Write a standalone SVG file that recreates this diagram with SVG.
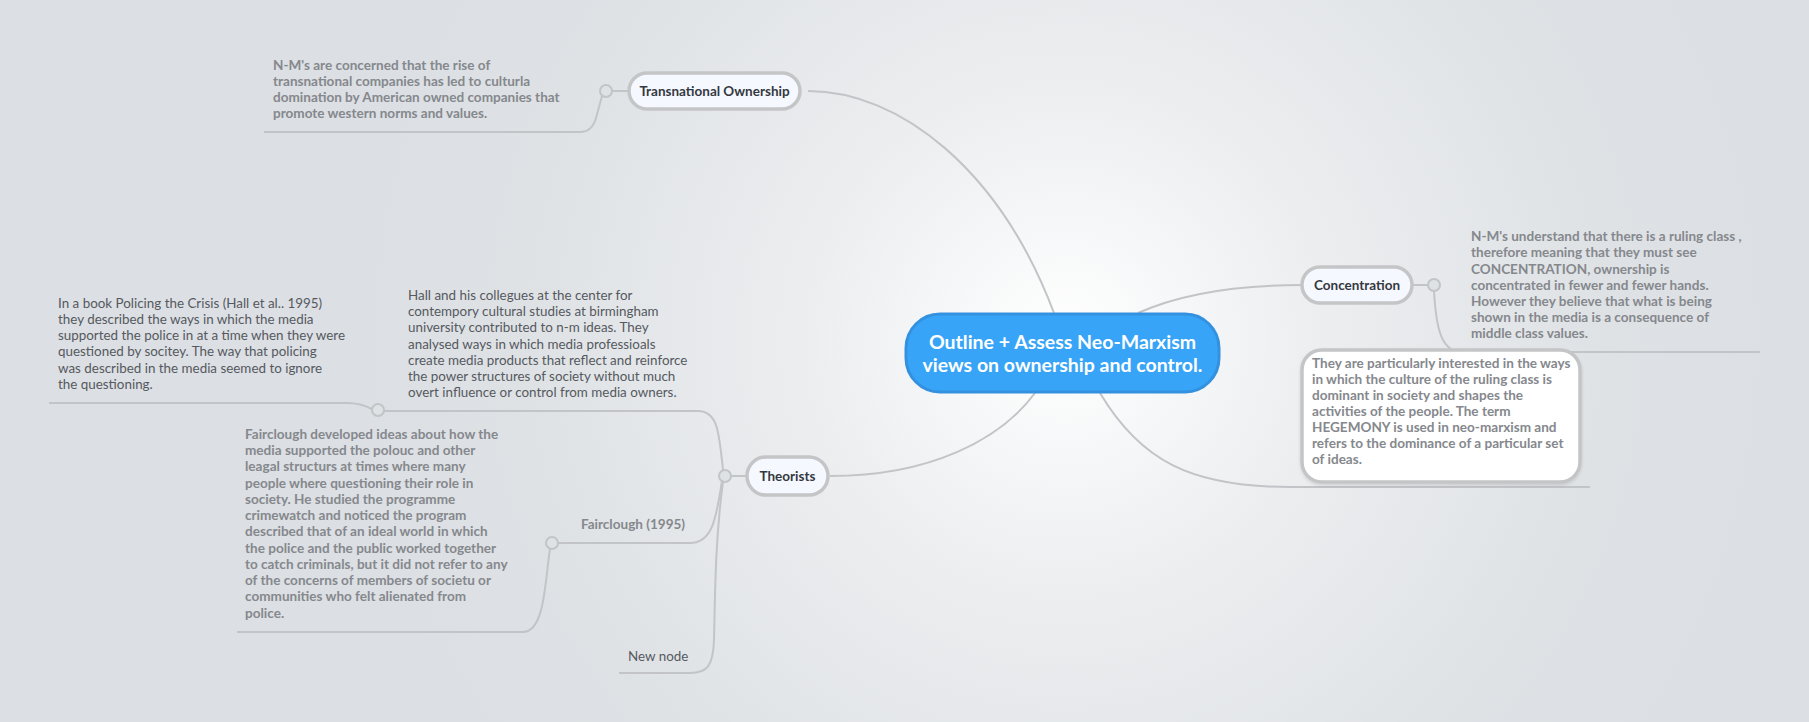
<svg xmlns="http://www.w3.org/2000/svg" width="1809" height="722" viewBox="0 0 1809 722">
<defs>
<radialGradient id="bg" cx="1065" cy="340" r="720" gradientUnits="userSpaceOnUse">
<stop offset="0" stop-color="#ffffff"/>
<stop offset="0.35" stop-color="#eceef0"/>
<stop offset="0.75" stop-color="#dfe2e5"/>
<stop offset="1" stop-color="#dcdfe3"/>
</radialGradient>
<filter id="sh" x="-10%" y="-10%" width="120%" height="130%">
<feDropShadow dx="0" dy="1.5" stdDeviation="1.5" flood-color="#000" flood-opacity="0.12"/>
</filter>
</defs>
<style>
.c{fill:none;stroke:#c2c4c7;stroke-width:2}
.j{fill:#dfe2e5;stroke:#c2c4c7;stroke-width:2}
.n{fill:#f5f8ff;stroke:#c4c5c7;stroke-width:3.5}
.lab{font-family:Lato,"Open Sans",sans-serif;font-size:13.5px;font-weight:700;fill:#34383e}
.bd{font-family:Lato,"Open Sans",sans-serif;font-size:13.55px;font-weight:700;fill:#85888d}
.rg{font-family:Lato,"Open Sans",sans-serif;font-size:13.4px;font-weight:400;fill:#55595f}
.ct{font-family:Lato,"Open Sans",sans-serif;font-size:19.5px;font-weight:700;fill:#ffffff}
</style>
<rect width="1809" height="722" fill="url(#bg)"/>

<g id="connectors">
<path class="c" d="M808 91 C900 91 1000 170 1054 313"/>
<path class="c" d="M1138 313 Q1200 285 1302 285"/>
<path class="c" d="M1100 393 C1140 460 1190 487 1290 487 H1590"/>
<path class="c" d="M1035 393 C1000 440 930 476 830 476"/>
<path class="c" d="M612 91 H629"/>
<path class="c" d="M264 132 H580 Q592 132 596 118 L602 96"/>
<path class="c" d="M1412 285 H1428"/>
<path class="c" d="M1434 291 C1436 325 1440 352 1462 352 H1760"/>
<path class="c" d="M731 476 H747"/>
<path class="c" d="M723 470 C719 430 717 411 698 411 H384"/>
<path class="c" d="M49 403 H348 Q360 403 372 409"/>
<path class="c" d="M722 481 C716 520 712 543 690 543 H558"/>
<path class="c" d="M550 549 C545 580 545 632 523 632 H237"/>
<path class="c" d="M723 482 C715 540 715 600 714 640 C713 665 708 673 690 673 H619"/>
</g>

<g id="center">
<rect x="906" y="314" width="313" height="78" rx="34" fill="#37a4f7" stroke="#3491e0" stroke-width="3"/>
<text class="ct" x="1062.5" y="348.5" text-anchor="middle">Outline + Assess Neo-Marxism</text>
<text class="ct" x="1062.5" y="371.5" text-anchor="middle">views on ownership and control.</text>
</g>

<g id="transnational">
<rect class="n" x="629" y="73" width="171" height="36" rx="18"/>
<text class="lab" x="714.5" y="96" text-anchor="middle">Transnational Ownership</text>
<circle class="j" cx="606" cy="91" r="6"/>
</g>

<g id="transnational-text">
<text class="bd"><tspan x="273" y="70">N-M's are concerned that the rise of</tspan><tspan x="273" y="86">transnational companies has led to culturla</tspan><tspan x="273" y="102">domination by American owned companies that</tspan><tspan x="273" y="118">promote western norms and values.</tspan></text>
</g>

<g id="concentration">
<rect class="n" x="1302" y="267" width="110" height="36" rx="18"/>
<text class="lab" x="1357" y="290" text-anchor="middle">Concentration</text>
<circle class="j" cx="1434" cy="285" r="6"/>
</g>

<g id="concentration-text">
<text class="bd"><tspan x="1471" y="241">N-M's understand that there is a ruling class ,</tspan><tspan x="1471" y="257">therefore meaning that they must see</tspan><tspan x="1471" y="273.5">CONCENTRATION, ownership is</tspan><tspan x="1471" y="290">concentrated in fewer and fewer hands.</tspan><tspan x="1471" y="306">However they believe that what is being</tspan><tspan x="1471" y="322">shown in the media is a consequence of</tspan><tspan x="1471" y="338">middle class values.</tspan></text>
</g>

<g id="hegemony">
<rect x="1302" y="350" width="278" height="132" rx="20" fill="#ffffff" stroke="#c4c5c7" stroke-width="3.5" filter="url(#sh)"/>
<text class="bd"><tspan x="1312" y="368">They are particularly interested in the ways</tspan><tspan x="1312" y="384">in which the culture of the ruling class is</tspan><tspan x="1312" y="400">dominant in society and shapes the</tspan><tspan x="1312" y="416">activities of the people. The term</tspan><tspan x="1312" y="432">HEGEMONY is used in neo-marxism and</tspan><tspan x="1312" y="448">refers to the dominance of a particular set</tspan><tspan x="1312" y="464">of ideas.</tspan></text>
</g>

<g id="theorists">
<rect class="n" x="747" y="457" width="81" height="38" rx="19"/>
<text class="lab" x="787.5" y="481" text-anchor="middle">Theorists</text>
<circle class="j" cx="725" cy="476" r="6"/>
</g>

<g id="hall">
<text class="rg"><tspan x="408" y="299.5">Hall and his collegues at the center for</tspan><tspan x="408" y="316">contempory cultural studies at birmingham</tspan><tspan x="408" y="332">university contributed to n-m ideas. They</tspan><tspan x="408" y="348.5">analysed ways in which media professioals</tspan><tspan x="408" y="364.5">create media products that reflect and reinforce</tspan><tspan x="408" y="381">the power structures of society without much</tspan><tspan x="408" y="397">overt influence or control from media owners.</tspan></text>
<circle class="j" cx="378" cy="410" r="6"/>
</g>

<g id="policing">
<text class="rg"><tspan x="58" y="308">In a book Policing the Crisis (Hall et al.. 1995)</tspan><tspan x="58" y="324">they described the ways in which the media</tspan><tspan x="58" y="340">supported the police in at a time when they were</tspan><tspan x="58" y="356">questioned by socitey. The way that policing</tspan><tspan x="58" y="372.5">was described in the media seemed to ignore</tspan><tspan x="58" y="389">the questioning.</tspan></text>
</g>

<g id="fairclough">
<text class="bd" x="633" y="529" text-anchor="middle">Fairclough (1995)</text>
<circle class="j" cx="552" cy="543" r="6"/>
</g>

<g id="fairclough-text">
<text class="bd"><tspan x="245" y="439">Fairclough developed ideas about how the</tspan><tspan x="245" y="455">media supported the polouc and other</tspan><tspan x="245" y="471">leagal structurs at times where many</tspan><tspan x="245" y="488">people where questioning their role in</tspan><tspan x="245" y="504">society. He studied the programme</tspan><tspan x="245" y="520">crimewatch and noticed the program</tspan><tspan x="245" y="536">described that of an ideal world in which</tspan><tspan x="245" y="553">the police and the public worked together</tspan><tspan x="245" y="569">to catch criminals, but it did not refer to any</tspan><tspan x="245" y="585">of the concerns of members of societu or</tspan><tspan x="245" y="601">communities who felt alienated from</tspan><tspan x="245" y="618">police.</tspan></text>
</g>

<g id="newnode">
<text class="rg" x="628" y="661">New node</text>
</g>
</svg>
